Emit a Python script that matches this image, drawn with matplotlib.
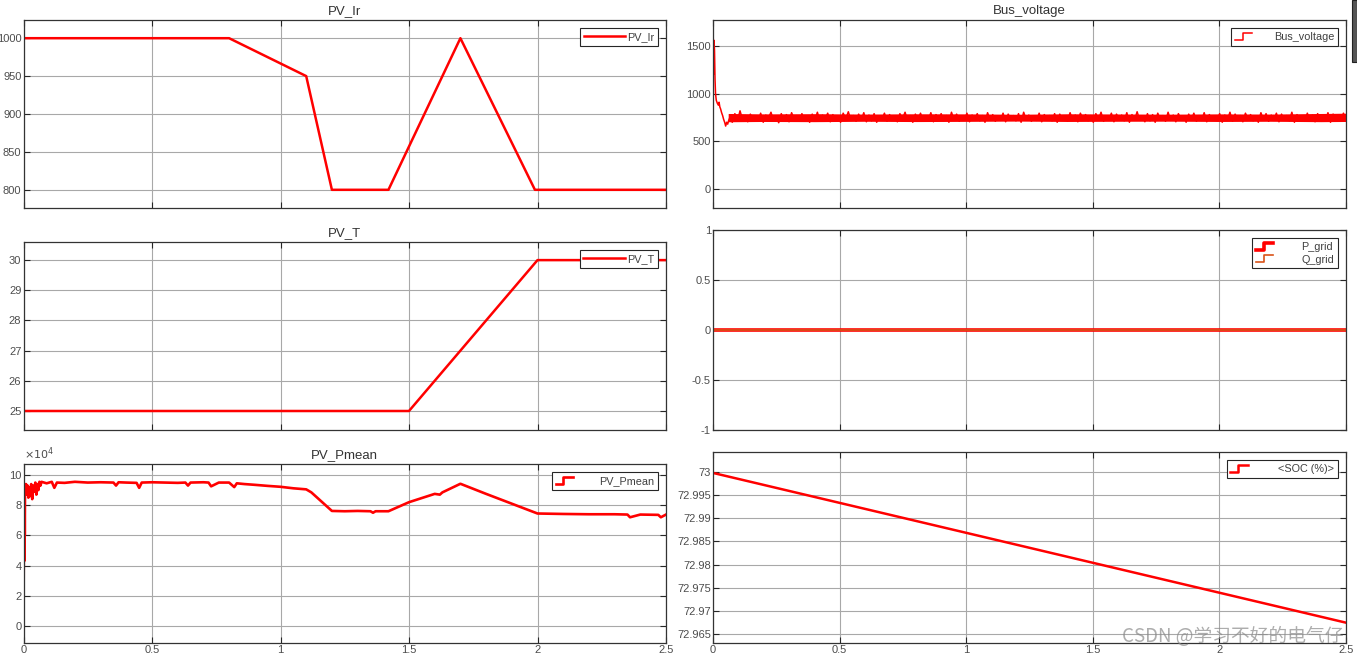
import matplotlib
matplotlib.use('Agg')
import matplotlib.pyplot as plt
from matplotlib.lines import Line2D
from matplotlib.legend_handler import HandlerBase
from matplotlib.ticker import FuncFormatter
from matplotlib.patches import Rectangle
import numpy as np

plt.rcParams['font.family'] = ['Liberation Sans', 'Noto Sans CJK SC', 'DejaVu Sans']

# ---- data ----
ir_t = [0, 0.8, 1.1, 1.2, 1.42, 1.7, 1.99, 2.5]
ir_val = [1000, 1000, 950, 800, 800, 1000, 800, 800]

temp_t = [0, 1.5, 2.0, 2.5]
temp_val = [25, 25, 30, 30]

pm_t = [0, 0.002, 0.003, 0.004, 0.005, 0.006, 0.008, 0.010, 0.013, 0.016,
        0.019, 0.022, 0.026, 0.030, 0.034, 0.038, 0.042, 0.046, 0.050, 0.054,
        0.058, 0.062, 0.066, 0.07, 0.09, 0.11, 0.12, 0.13, 0.16, 0.2,
        0.25, 0.3, 0.35, 0.36, 0.37, 0.4, 0.44, 0.45, 0.46, 0.5,
        0.55, 0.6, 0.63, 0.64, 0.65, 0.7, 0.72, 0.73, 0.76, 0.8,
        0.82, 0.83, 0.86, 0.9, 0.95, 1.0, 1.05, 1.1, 1.12, 1.2,
        1.25, 1.3, 1.35, 1.36, 1.37, 1.42, 1.5, 1.6, 1.62, 1.63,
        1.7, 1.8, 1.9, 2.0, 2.1, 2.2, 2.3, 2.35, 2.36, 2.4,
        2.47, 2.48, 2.5]
pm_val = [0, 8.3e4, 4.3e4, 9.3e4, 6.0e4, 9.4e4, 9.0e4, 9.4e4, 8.7e4, 9.3e4,
          8.5e4, 9.2e4, 8.6e4, 9.4e4, 8.4e4, 9.3e4, 8.9e4, 9.5e4, 8.7e4, 9.4e4,
          9.0e4, 9.55e4, 9.3e4, 9.55e4, 9.45e4, 9.55e4, 9.15e4, 9.5e4, 9.48e4, 9.55e4,
          9.5e4, 9.52e4, 9.5e4, 9.3e4, 9.52e4, 9.5e4, 9.48e4, 9.15e4, 9.5e4, 9.52e4,
          9.5e4, 9.48e4, 9.5e4, 9.3e4, 9.5e4, 9.52e4, 9.5e4, 9.25e4, 9.5e4, 9.5e4,
          9.2e4, 9.45e4, 9.4e4, 9.35e4, 9.28e4, 9.22e4, 9.12e4, 9.05e4, 8.85e4, 7.62e4,
          7.6e4, 7.62e4, 7.6e4, 7.5e4, 7.6e4, 7.6e4, 8.2e4, 8.75e4, 8.7e4, 8.85e4,
          9.42e4, 8.75e4, 8.1e4, 7.45e4, 7.42e4, 7.4e4, 7.4e4, 7.38e4, 7.2e4, 7.38e4,
          7.36e4, 7.2e4, 7.38e4]

bus_start_t = [0, 0.001, 0.002, 0.004, 0.006, 0.008, 0.010, 0.013, 0.017, 0.021,
               0.024, 0.027, 0.030, 0.034, 0.038, 0.042, 0.046, 0.050, 0.054, 0.058, 0.062]
bus_start_v = [0, 1580, 1200, 1560, 1450, 1150, 1000, 930, 900, 880,
               910, 860, 840, 800, 770, 730, 700, 660, 700, 680, 720]
bus_noise = [
    745, 700, 790, 715, 820, 725, 770, 705, 785, 730,
    760, 710, 795, 700, 775, 740, 805, 715, 765, 695,
    790, 720, 780, 705, 800, 735, 770, 710, 790, 725,
    765, 700, 785, 720, 805, 710, 775, 730, 795, 705,
    780, 715, 760, 700, 795, 735, 810, 720, 770, 710,
    785, 725, 800, 705, 775, 715, 790, 700, 765, 730,
    795, 710, 780, 720, 760, 705, 790, 735, 805, 715,
    770, 700, 785, 725, 795, 710, 765, 720, 800, 705,
    780, 730, 790, 715, 770, 700, 805, 725, 785, 710,
    760, 720, 795, 705, 775, 735, 790, 715, 770, 700,
    800, 725, 780, 710, 765, 720, 795, 705, 785, 730,
    770, 715, 790, 700, 805, 725, 775, 710, 760, 720,
    795, 705, 780, 735, 770, 715, 790, 700, 785, 725,
    765, 710, 800, 720, 775, 705, 795, 730, 780, 715,
    770, 700, 790, 725, 805, 710, 765, 720, 795, 705,
    785, 730, 775, 715, 800, 700, 780, 725, 810, 720,
    760, 705, 790, 715, 780, 700, 795, 730, 770, 710,
    805, 720, 775, 705, 790, 735, 765, 700, 785, 725,
    795, 710, 770, 720, 800, 705, 780, 730, 760, 715,
    790, 700, 775, 725, 805, 710, 785, 720, 770, 705,
    795, 735, 780, 715, 765, 700, 800, 725, 790, 710,
    775, 720, 795, 705, 785, 730, 770, 715, 805, 700,
    780, 725, 760, 710, 795, 720, 775, 705, 790, 735,
    770, 715, 800, 700, 785, 725, 765, 710, 795, 720,
]
# dense band of the switching ripple (lower / upper edge)
band_t = [0.06, 0.2, 0.4, 0.6, 0.8, 1.0, 1.2, 1.4, 1.6, 1.8, 2.0, 2.2, 2.4, 2.5]
band_lo = [705, 708, 706, 710, 707, 709, 712, 708, 710, 711, 708, 710, 706, 708]
band_hi = [792, 788, 790, 786, 789, 788, 784, 789, 787, 785, 788, 786, 792, 795]

grid_t = [0, 2.5]
p_grid = [0, 0]
q_grid = [0, 0]

soc_t = [0, 0.004, 2.5]
soc_val = [72.99985, 72.99975, 72.96745]

x_ticks = [0, 0.5, 1, 1.5, 2, 2.5]


class StepHandler(HandlerBase):
    def create_artists(self, legend, orig_handle, xdescent, ydescent,
                       width, height, fontsize, trans):
        x0, y0 = -xdescent, -ydescent
        xs = [x0, x0 + 0.45 * width, x0 + 0.45 * width, x0 + width]
        ys = [y0 + 0.05 * height, y0 + 0.05 * height, y0 + 0.95 * height, y0 + 0.95 * height]
        ln = Line2D(xs, ys, color=orig_handle.get_color(),
                    lw=orig_handle.get_linewidth())
        ln.set_transform(trans)
        return [ln]


W, H = 1357, 663
fig = plt.figure(figsize=(W / 100, H / 100), dpi=100)


def box(l, t, r, b):
    return [l / W, 1 - b / H, (r - l) / W, (b - t) / H]


def style(ax, yticks, ylim, fmt, show_x=False):
    ax.set_xlim(0, 2.5)
    ax.set_ylim(*ylim)
    ax.set_xticks(x_ticks)
    ax.set_yticks(yticks)
    ax.xaxis.set_major_formatter(FuncFormatter(lambda v, p: '%g' % v))
    ax.yaxis.set_major_formatter(fmt)
    ax.grid(True, color='#a8a8a8', lw=0.8)
    ax.tick_params(direction='in', top=True, right=True, length=4, width=0.8,
                   labelsize=8, colors='#262626', labelcolor='#4d4d4d', pad=1.5)
    if not show_x:
        ax.tick_params(labelbottom=False)
    for s in ax.spines.values():
        s.set_color('#333333')
        s.set_linewidth(0.9)
    ax.set_axisbelow(True)


def title(ax, txt):
    ax.set_title(txt, fontsize=9.5, color='#333333', pad=4)


def legend(ax, step, hl, tp, bap=0.75):
    leg = ax.legend(loc='upper right', fontsize=7.8, frameon=True, fancybox=False,
                    handlelength=hl, handletextpad=tp, borderaxespad=bap,
                    borderpad=0.35, labelspacing=0.25, framealpha=1,
                    handler_map={Line2D: StepHandler()} if step else None)
    leg.get_frame().set_edgecolor('#262626')
    leg.get_frame().set_linewidth(0.8)
    for t in leg.get_texts():
        t.set_color('#404040')
    return leg


g = FuncFormatter(lambda v, p: '%g' % v)

# left column
ax1 = fig.add_axes(box(23.5, 20, 666, 208))
ax1.plot(ir_t, ir_val, color='red', lw=1.8, label='PV_Ir')
style(ax1, [800, 850, 900, 950, 1000], (776, 1024), g)
title(ax1, 'PV_Ir')
legend(ax1, False, 3.8, 0.2)

ax2 = fig.add_axes(box(23.5, 242, 666, 430))
ax2.plot(temp_t, temp_val, color='red', lw=1.8, label='PV_T')
style(ax2, [25, 26, 27, 28, 29, 30], (24.37, 30.6), g)
title(ax2, 'PV_T')
legend(ax2, False, 3.8, 0.2)

ax3 = fig.add_axes(box(23.5, 464, 666, 643))
ax3.plot(pm_t, pm_val, color='red', lw=1.9, label='PV_Pmean')
style(ax3, [0, 2e4, 4e4, 6e4, 8e4, 10e4], (-1.13e4, 10.73e4),
      FuncFormatter(lambda v, p: '%g' % (v / 1e4)), show_x=True)
ax3.text(0, 1.01, r'$\times10^{4}$', transform=ax3.transAxes, fontsize=8,
         color='#4d4d4d', ha='left', va='bottom')
title(ax3, 'PV_Pmean')
legend(ax3, True, 1.6, 2.4)

# right column
ax4 = fig.add_axes(box(713, 20, 1346, 208))
bus_t = bus_start_t + list(np.linspace(0.066, 2.5, len(bus_noise)))
bus_v = bus_start_v + bus_noise
ax4.fill_between(band_t, band_lo, band_hi, color='red', lw=0)
ax4.plot(bus_t, bus_v, color='red', lw=1.1, label='Bus_voltage')
style(ax4, [0, 500, 1000, 1500], (-200, 1773), g)
title(ax4, 'Bus_voltage')
legend(ax4, True, 1.6, 2.0)

ax5 = fig.add_axes(box(713, 230, 1346, 430))
ax5.plot(grid_t, p_grid, color='red', lw=2.6, label='P_grid')
ax5.plot(grid_t, q_grid, color='#D95319', lw=1.2, label='Q_grid')
style(ax5, [-1, -0.5, 0, 0.5, 1], (-1, 1), g)
legend(ax5, True, 1.6, 2.6)

ax6 = fig.add_axes(box(713, 452, 1346, 643))
ax6.plot(soc_t, soc_val, color='red', lw=1.8, label='<SOC (%)>')
style(ax6, [72.965, 72.97, 72.975, 72.98, 72.985, 72.99, 72.995, 73.0],
      (72.96306, 73.00432), g, show_x=True)
legend(ax6, True, 1.6, 2.8)

# scope side bar remnant and watermark
fig.patches.append(Rectangle((1352 / W, 1 - 62 / H), 5 / W, 62 / H,
                             transform=fig.transFigure, facecolor='#555555',
                             edgecolor='#222222', lw=0.8))
fig.text(1344 / W, 1 - 637 / H, 'CSDN @学习不好的电气仔', fontsize=13.5,
         color='#8a8a8a', alpha=0.7, ha='right', va='center',
         family=['Noto Sans CJK SC', 'DejaVu Sans'])

fig.savefig('out.png', dpi=100)
